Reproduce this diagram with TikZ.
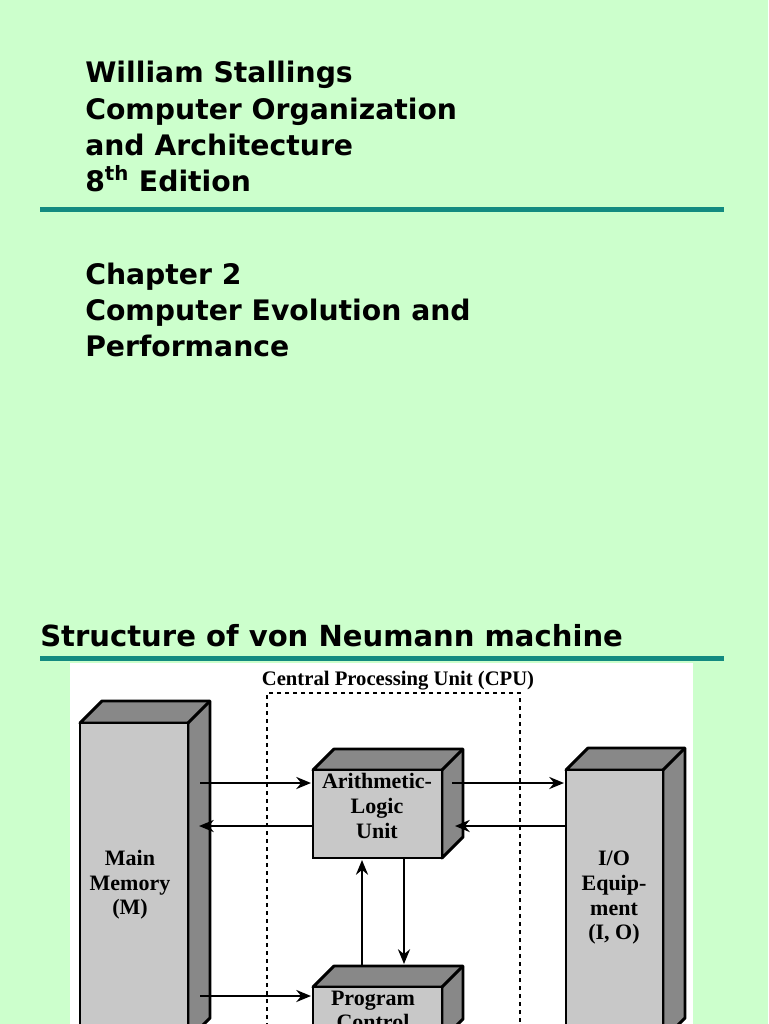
\documentclass[tikz,border=0pt]{standalone}
\usepackage{fontspec}
\setmainfont{DejaVu Sans}
\newfontfamily\serifb{Liberation Serif}
\usetikzlibrary{arrows.meta}
\definecolor{bg}{HTML}{CCFFCC}
\definecolor{teal2}{HTML}{138A80}
\definecolor{facegray}{HTML}{C8C8C8}
\definecolor{sidegray}{HTML}{888888}
\tikzset{
  title/.style={anchor=base west,font=\fontsize{21.2}{24}\selectfont\bfseries,inner sep=0},
  lbl/.style={font=\serifb\fontsize{16.5}{18.5}\selectfont\bfseries,align=center},
  arr/.style={line width=2.2pt,-{Stealth[length=11pt,width=9pt]}},
}
\begin{document}
\begin{tikzpicture}[x=0.75pt,y=-0.75pt]
\useasboundingbox (0,0) rectangle (768,1024);
\clip (0,0) rectangle (768,1024);
\fill[bg] (0,0) rectangle (768,1024);
\node[title] (t1) at (85,83) {William Stallings};
\node[title] (t2) at (85,119) {Computer Organization};
\node[title] (t3) at (85,155) {and Architecture};
\node[title] (t4) at (85,191) {8\textsuperscript{th} Edition};
\fill[teal2] (40,206.5) rectangle (724,211.5);
\node[title] (c1) at (85,284) {Chapter 2};
\node[title] (c2) at (85,320) {Computer Evolution and};
\node[title] (c3) at (85,356) {Performance};
\node[title,font=\fontsize{21.8}{26}\selectfont\bfseries] (s1) at (40,646) {Structure of von Neumann machine};
\fill[teal2] (40,655.5) rectangle (724,660.5);
\fill[white] (70,663) rectangle (693,1030);
\node[font=\serifb\fontsize{15.5}{17}\selectfont\bfseries] (cpu) at (398,681) {Central Processing Unit (CPU)};
\draw[dashed,line width=1pt] (520,1030) -- (520,693) -- (267,693) -- (267,1030);
\foreach \nm/\xa/\ya/\xb/\yb/\d in {mm/80/723/188/1040/22, alu/313/770/442/858/21, io/566/770/663/1040/22, pc/313/987/442/1040/21}{
  \draw[line width=2.2pt,fill=sidegray,line join=round] (\xa,\ya) -- (\xa+\d,\ya-\d) -- (\xb+\d,\ya-\d) -- (\xb+\d,\yb-\d) -- (\xb,\yb) -- (\xb,\ya) -- cycle;
  \draw[line width=2.2pt] (\xb,\ya) -- (\xb+\d,\ya-\d);
  \draw[line width=2.2pt,fill=facegray] (\xa,\ya) rectangle (\xb,\yb);
}
\node[lbl] (mml) at (130,885) {Main\\Memory\\(M)};
\node[lbl] (alul) at (377,806) {Arithmetic-\\Logic\\Unit};
\node[lbl] (iol) at (614,898) {I/O\\Equip-\\ment\\(I, O)};
\node[lbl,anchor=north] (pcl) at (373,986) {Program\\Control};
\coordinate (a1) at (200,783); \coordinate (a2) at (311,783);
\coordinate (b1) at (313,826); \coordinate (b2) at (199,826);
\coordinate (c1a) at (452,783); \coordinate (c2a) at (564,783);
\coordinate (d1) at (566,826); \coordinate (d2) at (455,826);
\coordinate (e1) at (362,966); \coordinate (e2) at (362,860);
\coordinate (f1) at (404,858); \coordinate (f2) at (404,964);
\coordinate (g1) at (200,996); \coordinate (g2) at (311,996);
\draw[arr] (a1) -- (a2);
\draw[arr] (b1) -- (b2);
\draw[arr] (c1a) -- (c2a);
\draw[arr] (d1) -- (d2);
\draw[arr] (e1) -- (e2);
\draw[arr] (f1) -- (f2);
\draw[arr] (g1) -- (g2);
\end{tikzpicture}
\end{document}
